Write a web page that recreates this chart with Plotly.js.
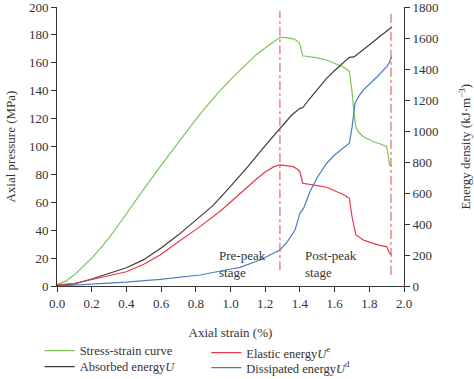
<!DOCTYPE html>
<html>
<head>
<meta charset="utf-8">
<script src="https://cdn.plot.ly/plotly-3.0.1.min.js"></script>
<style>html,body{margin:0;padding:0;background:#fff;}#chart{width:474px;height:379px;}</style>
</head>
<body>
<div id="chart"></div>
<script>
// Stress-strain curve (axial pressure, MPa)
const stressStrain = [0, 0.05, 0.1, 0.15, 0.2, 0.25, 0.3, 0.35, 0.413, 0.5, 0.6, 0.692, 0.75, 0.795, 0.87, 0.94, 1.02, 1.093, 1.15, 1.209, 1.25, 1.285, 1.32, 1.368, 1.39, 1.40, 1.416, 1.45, 1.5, 1.554, 1.6, 1.65, 1.685, 1.70, 1.715, 1.723, 1.74, 1.766, 1.8, 1.823, 1.86, 1.90, 1.91, 1.915, 1.929];
const stressValues = [1, 3.5, 8, 13.8, 20, 27, 34.5, 43, 54.5, 69.5, 86.5, 102, 111.5, 118.5, 130, 140, 150.5, 159.6, 166, 171.5, 175.5, 178.3, 178, 177, 175, 173.5, 165, 164.5, 163.5, 162, 159.5, 157, 154, 140, 120, 114, 110, 107, 105, 103.4, 102, 100, 93, 87, 86];

// Absorbed energy U (kJ/m3)
const absorbedStrain = [0, 0.1, 0.2, 0.3, 0.4, 0.5, 0.6, 0.7, 0.8, 0.872, 0.9, 1.0, 1.1, 1.2, 1.285, 1.35, 1.40, 1.416, 1.45, 1.5, 1.554, 1.6, 1.65, 1.685, 1.712, 1.75, 1.8, 1.823, 1.86, 1.90, 1.929];
const absorbedValues = [3, 14, 45, 80, 118, 170, 245, 330, 422, 490, 520, 643, 770, 905, 1017, 1100, 1146, 1150, 1200, 1270, 1340, 1390, 1440, 1475, 1478, 1510, 1555, 1576, 1610, 1641, 1669];

// Elastic energy Ue (kJ/m3)
const elasticStrain = [0, 0.1, 0.19, 0.3, 0.4, 0.5, 0.594, 0.7, 0.824, 0.949, 1.055, 1.1, 1.15, 1.2, 1.25, 1.285, 1.32, 1.362, 1.39, 1.40, 1.416, 1.45, 1.5, 1.554, 1.6, 1.65, 1.685, 1.70, 1.723, 1.766, 1.8, 1.823, 1.86, 1.90, 1.915, 1.929];
const elasticValues = [8, 16, 39, 66, 92, 140, 200, 285, 383, 490, 598, 640, 690, 735, 770, 781, 778, 770, 750, 737, 663, 655, 648, 637, 615, 590, 566, 450, 329, 297, 283, 275, 262, 254, 215, 200];

// Dissipated energy Ud (kJ/m3)
const dissipatedStrain = [0, 0.25, 0.4, 0.594, 0.824, 0.997, 1.055, 1.17, 1.285, 1.33, 1.372, 1.40, 1.421, 1.458, 1.5, 1.554, 1.6, 1.685, 1.70, 1.718, 1.74, 1.766, 1.8, 1.85, 1.90, 1.915, 1.929];
const dissipatedValues = [0, 13, 25, 43, 71, 108, 120, 168, 232, 290, 361, 469, 501, 608, 700, 792, 845, 921, 1020, 1179, 1225, 1265, 1300, 1355, 1415, 1440, 1480];

// Stage boundaries (strain, %) and stage labels
const stageBoundaries = [1.285, 1.925];
const stageLabels = ["Pre-peak<br>stage", "Post-peak<br>stage"];
const stageLabelX = [0.92, 1.42];
const stageLabelY = [16, 16];

// Axis titles
const leftTitle = "Axial pressure (MPa)";
const rightTitle = "Energy density (kJ·m<sup>−3</sup>)";
const bottomTitle = "Axial strain (%)";

const font = "Liberation Serif, Times New Roman, serif";
const axisColor = "#333";

const traces = [
  {x: stressStrain, y: stressValues, name: "Stress-strain curve", type: "scatter", mode: "lines",
   line: {color: "#7cc45c", width: 1.2}, yaxis: "y", legend: "legend"},
  {x: absorbedStrain, y: absorbedValues, name: "Absorbed energy<i>U</i>", type: "scatter", mode: "lines",
   line: {color: "#3c3c3c", width: 1.2}, yaxis: "y2", legend: "legend2"},
  {x: elasticStrain, y: elasticValues, name: "Elastic energy<i>U</i><sup>e</sup>", type: "scatter", mode: "lines",
   line: {color: "#e8374a", width: 1.2}, yaxis: "y2", legend: "legend3"},
  {x: dissipatedStrain, y: dissipatedValues, name: "Dissipated energy<i>U</i><sup>d</sup>", type: "scatter", mode: "lines",
   line: {color: "#4a7cc4", width: 1.2}, yaxis: "y2", legend: "legend4"}
];

const shapes = stageBoundaries.map((b, i) => ({
  type: "line", xref: "x", yref: "paper", x0: b, x1: b,
  y0: i === 0 ? 0.057 : 0.04, y1: 0.985,
  line: {color: "#e8454a", width: 1, dash: "dashdot"}
}));

const titleFont = {family: font, size: 13, color: axisColor};
const annotations = stageLabels.map((t, i) => ({
  x: stageLabelX[i], y: stageLabelY[i], xref: "x", yref: "y",
  text: t, showarrow: false, xanchor: "left", yanchor: "middle", align: "left",
  font: {family: font, size: 13, color: "#333"}
})).concat([
  {x: -0.1354, y: 0.5, xref: "paper", yref: "paper", text: leftTitle, textangle: -90,
   showarrow: false, xanchor: "center", yanchor: "middle", font: titleFont},
  {x: 1.173, y: 0.5, xref: "paper", yref: "paper", text: rightTitle, textangle: -90,
   showarrow: false, xanchor: "center", yanchor: "middle", font: titleFont}
]);

const legendFont = {family: font, size: 12.5, color: "#333"};
function leg(x, y) {
  return {orientation: "v", xref: "container", yref: "container", x: x, y: y,
          xanchor: "left", yanchor: "middle", font: legendFont, bgcolor: "rgba(0,0,0,0)"};
}

const layout = {
  width: 474, height: 379,
  margin: {l: 57, r: 70, t: 7, b: 93, autoexpand: false},
  paper_bgcolor: "#fff", plot_bgcolor: "#fff",
  font: {family: font, size: 13, color: axisColor},
  showlegend: true,
  legend: leg(0.0836, 0.0739),
  legend2: leg(0.0836, 0.0317),
  legend3: leg(0.4353, 0.0686),
  legend4: leg(0.4353, 0.029),
  xaxis: {range: [0, 2], dtick: 0.2, tickformat: ".1f", showgrid: false, zeroline: false,
          showline: true, linecolor: axisColor, linewidth: 1, ticks: "outside", ticklen: 5, tickcolor: axisColor,
          tickfont: {family: font, size: 13, color: axisColor}, ticklabeloverflow: "allow",
          title: {text: bottomTitle, font: titleFont, standoff: 18}},
  yaxis: {range: [0, 200], dtick: 20, showgrid: false, zeroline: false,
          showline: true, linecolor: axisColor, linewidth: 1, ticks: "outside", ticklen: 5, tickcolor: axisColor,
          tickfont: {family: font, size: 13, color: axisColor}, ticklabeloverflow: "allow"},
  yaxis2: {range: [0, 1800], dtick: 200, overlaying: "y", side: "right", showgrid: false, zeroline: false,
           showline: true, linecolor: axisColor, linewidth: 1, ticks: "outside", ticklen: 5, tickcolor: axisColor,
           tickfont: {family: font, size: 13, color: axisColor}, ticklabeloverflow: "allow"},
  shapes: shapes,
  annotations: annotations
};

Plotly.newPlot("chart", traces, layout, {displayModeBar: false, staticPlot: true});
</script>
</body>
</html>
